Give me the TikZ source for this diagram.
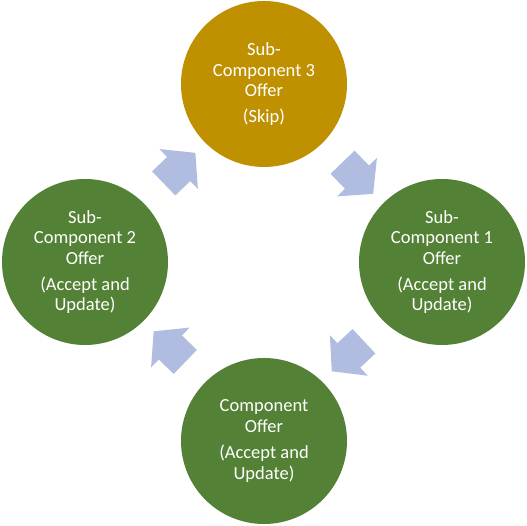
\documentclass[tikz,border=0pt]{standalone}
\usepackage{fontspec}
\setmainfont{Carlito}
\usetikzlibrary{shapes.arrows}
\usetikzlibrary{calc}
\definecolor{offergreen}{RGB}{83,129,53}
\definecolor{offergold}{RGB}{191,144,0}
\definecolor{turnblue}{RGB}{176,188,224}
\tikzset{offer/.style={circle, minimum size=166pt, inner sep=0pt, text=white, align=center, font=\fontsize{18.5}{20.7}\selectfont}}
\tikzset{turn/.style={single arrow, fill=turnblue, minimum height=44pt, minimum width=55pt, single arrow head extend=11pt, single arrow tip angle=100, inner xsep=0pt, inner ysep=16.5pt}}

\begin{document}
\begin{tikzpicture}[x=1pt,y=1pt]
\useasboundingbox (0,0) rectangle (527,526);

\node[offer, fill=offergold] (sc3) at (264,442) {Sub-\\Component 3\\Offer\\[5pt](Skip)};
\node[offer, fill=offergreen] (sc1) at (442,264) {Sub-\\Component 1\\Offer\\[5pt](Accept and\\Update)};
\node[offer, fill=offergreen] (co) at (264,85) {Component\\Offer\\[5pt](Accept and\\Update)};
\node[offer, fill=offergreen] (sc2) at (85,264) {Sub-\\Component 2\\Offer\\[5pt](Accept and\\Update)};

% arrows between the offers
\node[turn, rotate=44] (t1) at ($(sc2)!0.5!(sc3)$) {};
\node[turn, rotate=-46] (t2) at ($(sc3)!0.5!(sc1)$) {};
\node[turn, rotate=-137] (t3) at ($(sc1)!0.5!(co)$) {};
\node[turn, rotate=136] (t4) at ($(co)!0.5!(sc2)$) {};

\end{tikzpicture}
\end{document}
